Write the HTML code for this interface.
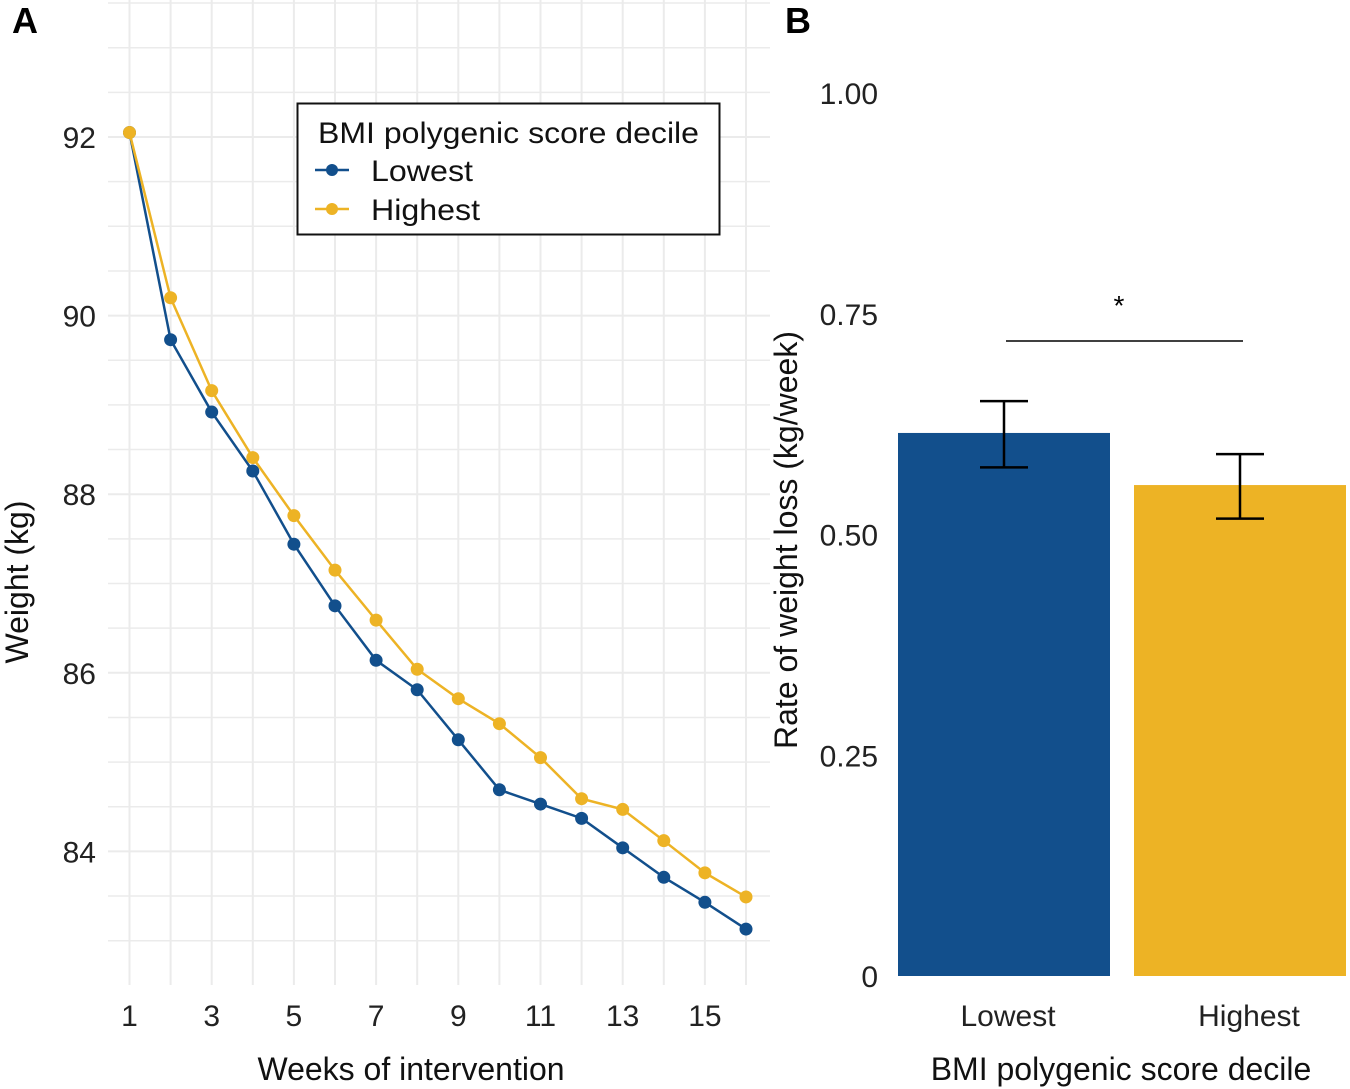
<!DOCTYPE html>
<html><head><meta charset="utf-8"><style>
html,body{margin:0;padding:0;background:#fff;}
svg{display:block;font-family:"Liberation Sans",Arial,sans-serif;}
</style></head><body>
<svg id="chart" width="1350" height="1089" viewBox="0 0 1350 1089" xmlns="http://www.w3.org/2000/svg">
<g id="pa"></g>
<g id="pb"></g>
</svg>
<script>
const weeks=[1,2,3,4,5,6,7,8,9,10,11,12,13,14,15,16];
const lowest=[92.05,89.73,88.92,88.26,87.44,86.75,86.14,85.81,85.25,84.69,84.53,84.37,84.04,83.71,83.43,83.13];
const highest=[92.05,90.20,89.16,88.41,87.76,87.15,86.59,86.04,85.71,85.43,85.05,84.59,84.47,84.12,83.76,83.49];
const yTicksA=[84,86,88,90,92];
const xTicksA=[1,3,5,7,9,11,13,15];
const groups=["Lowest","Highest"];
const rates=[0.615,0.556];
const errLo=[0.576,0.518];
const errHi=[0.651,0.591];
const yTicksB=[0,0.25,0.5,0.75,1.0];
const yTickLabelsB=["0","0.25","0.50","0.75","1.00"];

const NS="http://www.w3.org/2000/svg";
function mk(p,t,a,txt){const e=document.createElementNS(NS,t);for(const k in a)e.setAttribute(k,a[k]);if(txt!==undefined)e.textContent=txt;p.appendChild(e);return e;}
const BLUE="#124f8c",GOLD="#edb325";
// Panel A
const pa=document.getElementById('pa');
const xA=w=>129.5+(w-1)*41.1;
const yA=v=>137+(92-v)*89.3;
const aLeft=108,aRight=770,aTop=0,aBottom=985;
for(let v=82.5;v<=93.5;v+=0.5){const y=yA(v);if(y<aTop||y>aBottom)continue;
 const g=mk(pa,'line',{x1:aLeft,x2:aRight,y1:y,y2:y,stroke:'#ebebeb','stroke-width':(v%2==0)?2:1.5});
 }
for(let w=1;w<=16;w++){const x=xA(w);
 const g=mk(pa,'line',{x1:x,x2:x,y1:aTop,y2:aBottom,stroke:'#ebebeb','stroke-width':2});
 }
yTicksA.forEach(v=>{const e=mk(pa,'text',{x:96,y:yA(v)+11,'text-anchor':'end','font-size':30,fill:'#222'},String(v));
 });
xTicksA.forEach(w=>{const e=mk(pa,'text',{x:xA(w),y:1026,'text-anchor':'middle','font-size':30,fill:'#222'},String(w));
 });
let tx=mk(pa,'text',{x:411,y:1080,'text-anchor':'middle','font-size':32,fill:'#111'},'Weeks of intervention');

tx=mk(pa,'text',{x:0,y:0,'text-anchor':'middle','font-size':32,fill:'#111',transform:'translate(28,582) rotate(-90)'},'Weight (kg)');

tx=mk(pa,'text',{x:12,y:33,'font-size':36,'font-weight':'bold',fill:'#000'},'A');

[[lowest,BLUE,'lowest'],[highest,GOLD,'highest']].forEach(([d,c,n])=>{
 const pl=mk(pa,'polyline',{points:d.map((v,i)=>xA(weeks[i])+','+yA(v)).join(' '),fill:'none',stroke:c,'stroke-width':2.5});
 
 d.forEach((v,i)=>{const p=mk(pa,'circle',{cx:xA(weeks[i]),cy:yA(v),r:6.5,fill:c});
  });
});
// legend
const lg=mk(pa,'g',{});
mk(lg,'rect',{x:297.5,y:103.5,width:422,height:131,fill:'#fff',stroke:'#111','stroke-width':2});
tx=mk(lg,'text',{x:318,y:143,'font-size':30,fill:'#111',textLength:381,lengthAdjust:'spacingAndGlyphs'},'BMI polygenic score decile');

[['Lowest',BLUE,170,102],['Highest',GOLD,209,109]].forEach(([l,c,y,tl])=>{
 const e=mk(lg,'g',{});
 mk(e,'line',{x1:315,x2:349,y1:y,y2:y,stroke:c,'stroke-width':2.5});
 mk(e,'circle',{cx:332,cy:y,r:6,fill:c});
 mk(e,'text',{x:371,y:y+11,'font-size':30,fill:'#111',textLength:tl,lengthAdjust:'spacingAndGlyphs'},l);
});
// Panel B
const pb=document.getElementById('pb');
const yB=v=>976-v*883;
const bx=[898,1134],bw=212;
yTicksB.forEach((v,i)=>{const e=mk(pb,'text',{x:878,y:yB(v)+11,'text-anchor':'end','font-size':30,fill:'#222'},yTickLabelsB[i]);
 });
rates.forEach((r,i)=>{const c=i==0?BLUE:GOLD;
 const b=mk(pb,'rect',{x:bx[i],y:yB(r),width:bw,height:yB(0)-yB(r),fill:c});
 
 const eg=mk(pb,'g',{stroke:'#000','stroke-width':2.5});
 
 const ex=i==0?1004:1240;
 mk(eg,'line',{x1:ex,x2:ex,y1:yB(errHi[i]),y2:yB(errLo[i])});
 mk(eg,'line',{x1:ex-24,x2:ex+24,y1:yB(errHi[i]),y2:yB(errHi[i])});
 mk(eg,'line',{x1:ex-24,x2:ex+24,y1:yB(errLo[i]),y2:yB(errLo[i])});
 const tl=mk(pb,'text',{x:i==0?1008:1249,y:1026,'text-anchor':'middle','font-size':30,fill:'#222'},groups[i]);
 
});
let sg=mk(pb,'line',{x1:1006,x2:1243,y1:341,y2:341,stroke:'#000','stroke-width':1.5});

sg=mk(pb,'text',{x:1119,y:315,'text-anchor':'middle','font-size':28,fill:'#000'},'*');

tx=mk(pb,'text',{x:1121,y:1080,'text-anchor':'middle','font-size':32,fill:'#111'},'BMI polygenic score decile');

tx=mk(pb,'text',{x:0,y:0,'text-anchor':'middle','font-size':32,fill:'#111',transform:'translate(797,540) rotate(-90)'},'Rate of weight loss (kg/week)');

tx=mk(pb,'text',{x:785,y:33,'font-size':36,'font-weight':'bold',fill:'#000'},'B');

</script>
</body></html>
